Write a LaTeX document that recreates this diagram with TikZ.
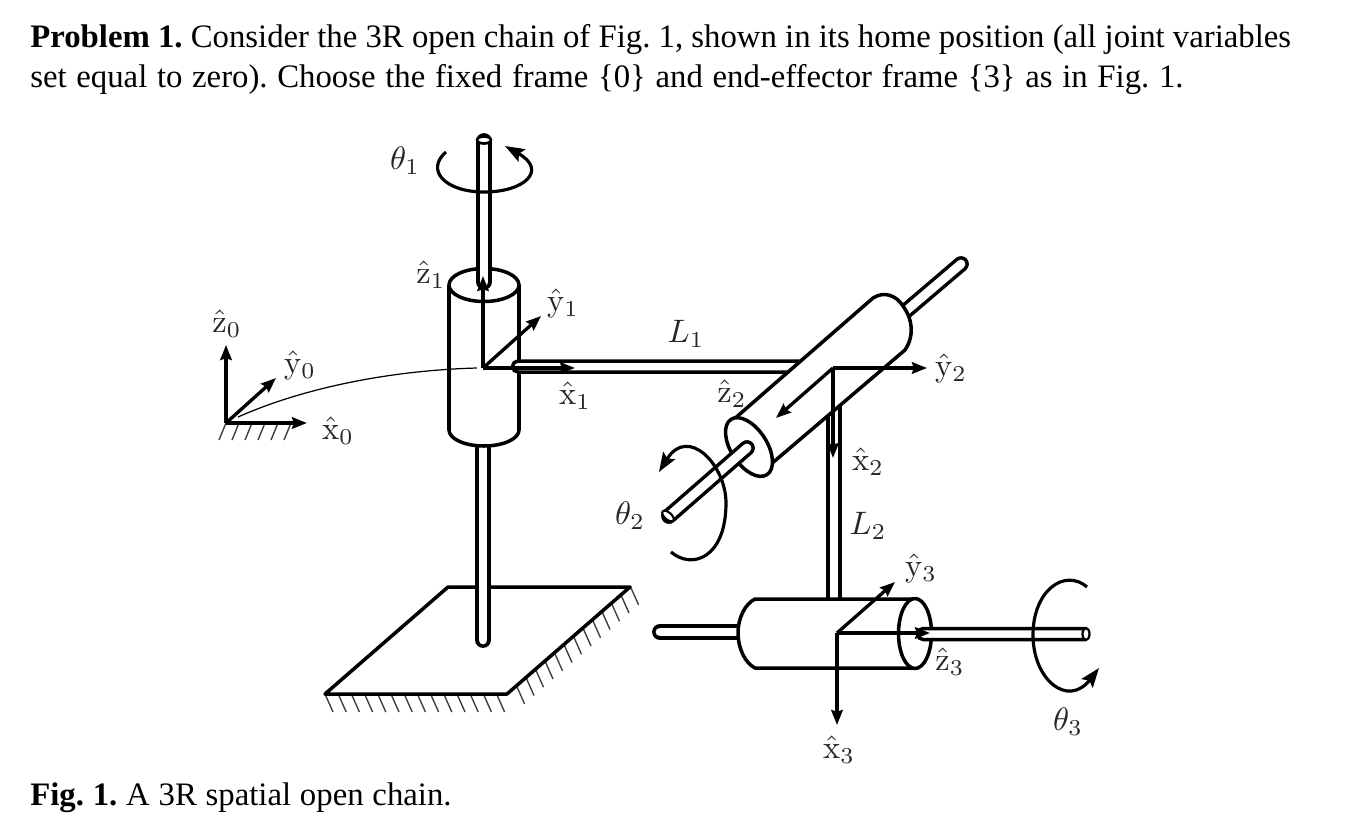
\documentclass[tikz,border=0pt]{standalone}
\usepackage{amsmath}
\usepackage[no-math]{fontspec}
\setmainfont{Liberation Serif}
\usepackage{tikz}
\usetikzlibrary{arrows.meta}

\tikzset{
    body/.style={line width=2pt,fill=white,line join=round},
    shaft/.style={line width=2pt,double=white,double distance=5pt,line cap=round},
    frameaxis/.style={line width=2.3pt,-{Stealth[length=8.5pt,width=6.5pt,inset=1pt]}},
    sideaxis/.style={line width=1.9pt,-{Stealth[length=8.5pt,width=6.5pt,inset=1pt]}},
    spin/.style={line width=1.8pt,-{Stealth[length=11pt,width=8pt,inset=2pt]}},
    hatch/.style={line width=0.8pt,black!75},
    lbl/.style={scale=1.85,inner sep=0pt,black!85},
    txt/.style={font=\fontsize{18.65}{22}\selectfont\frenchspacing,anchor=base west,inner sep=0pt}
}

\begin{document}
\begin{tikzpicture}[x=0.02cm,y=-0.02cm]
    \useasboundingbox (0,0) rectangle (1350,836);

    % Text
    \node[txt] (line1) at (30,47) {\textbf{Problem 1.} Consider the 3R open chain of Fig. 1, shown in its home position (all joint variables};
    \node[txt] (line2) at (30,87) {\spaceskip=5.5pt set equal to zero). Choose the fixed frame \{0\} and end-effector frame \{3\} as in Fig. 1.};
    \node[txt] (caption) at (30,805.5) {\spaceskip=5pt \textbf{Fig. 1.} A 3R spatial open chain.};

    % Frame origins
    \coordinate (O0) at (226,423);
    \coordinate (O1) at (483,368);
    \coordinate (O2) at (833,368);
    \coordinate (O3) at (837,633);

    % Fixed frame with its hatching
    \foreach \x in {226,239,252,265,278,291}
        \draw[hatch] (\x,423) -- ++(-7,17);

    % Base plate
    \foreach \i in {0,...,13}
        \draw[hatch] (325+13.2*\i,694) -- ++(8,18);
    \foreach \i in {1,...,13}
        \draw[hatch] (507+9.5*\i,694-8.25*\i) -- ++(8,18);
    \draw[line width=2pt,line join=round] (448,587) -- (630,587) -- (507,694) -- (325,694) -- cycle;

    % Joint 1
    \draw[shaft] (483,400) -- (483,640);
    \draw[body] (449,285) -- (449,430) arc[start angle=180,end angle=360,x radius=35,y radius=-16] -- (519,285) -- cycle;
    \draw[body] (484,285) ellipse[x radius=35,y radius=16.5];
    \draw[shaft] (484,282) -- (484,141);
    \draw[body,line width=1.5pt] (484,140) ellipse[x radius=7,y radius=3.5];

    % Link 1
    \draw[body] (810,361) -- (518,361) arc[start angle=270,end angle=90,radius=5.5] -- (800,372);

    % Link 2
    \draw[body] (828,400) -- (828,600);
    \draw[body] (840,400) -- (840,600);

    % Joint 2
    \draw[shaft] (900,316) -- (961,264);
    \draw[body] (733,420) -- (873,298) .. controls (884,291) and (896,295) .. (903,306)
        .. controls (912,318) and (915,335) .. (905,350) -- (770,465) -- cycle;
    \draw[body,rotate around={-57:(749,447)}] (749,447) ellipse[x radius=33,y radius=18];
    \draw[shaft] (747,448) -- (669,516);
    \draw[line width=1.2pt,fill=white,rotate around={-41:(668,516)}] (668,516) ellipse[x radius=7,y radius=3.5];

    % Joint 3
    \draw[shaft] (660,632) -- (740,632);
    \draw[body] (915,599) -- (755,599) .. controls (745,604) and (738,618) .. (738,633)
        .. controls (738,648) and (745,663) .. (755,668) -- (915,668) -- cycle;
    \draw[body] (915,633.5) ellipse[x radius=16.5,y radius=35];
    \draw[body] (1086,628.5) -- (923,628.5) arc[start angle=270,end angle=90,radius=5.5] -- (1086,639.5);
    \draw[body,line width=1.3pt] (1086,634) ellipse[x radius=3.5,y radius=6];

    % Frame axes
    \coordinate (Z0) at (226,345);
    \coordinate (X0) at (307,423);
    \coordinate (Y0) at (276,378);
    \draw[frameaxis] (O0) -- (Z0);
    \draw[frameaxis] (O0) -- (X0);
    \draw[sideaxis] (O0) -- (Y0);

    \coordinate (Z1) at (483,276);
    \coordinate (X1) at (575,368);
    \coordinate (Y1) at (541,316);
    \draw[frameaxis] (O1) -- (Z1);
    \draw[frameaxis] (O1) -- (X1);
    \draw[sideaxis] (O1) -- (Y1);

    \coordinate (Z2) at (776,418);
    \coordinate (X2) at (833,458);
    \coordinate (Y2) at (927,368);
    \draw[sideaxis] (O2) -- (Z2);
    \draw[frameaxis] (O2) -- (X2);
    \draw[sideaxis] (O2) -- (Y2);

    \coordinate (Z3) at (930,633);
    \coordinate (X3) at (837,725);
    \coordinate (Y3) at (895,582);
    \draw[frameaxis] (O3) -- (Z3);
    \draw[frameaxis] (O3) -- (X3);
    \draw[sideaxis] (O3) -- (Y3);

    % Thin curve between frames
    \coordinate (C0) at (238,417);
    \coordinate (C1) at (477,368);
    \draw[line width=0.7pt] (C0) .. controls (310,385) and (400,370) .. (C1);

    % Rotation arrows
    \draw[spin] (446,152) .. controls (425,170) and (445,192) .. (484,192)
        .. controls (525,192) and (548,170) .. (505,146);
    \draw[spin] (671,552) .. controls (692,570) and (726,558) .. (726,503)
        .. controls (726,465) and (688,425) .. (659,472);
    \draw[spin] (1087,587) .. controls (1065,568) and (1033,590) .. (1033,635)
        .. controls (1033,680) and (1068,708) .. (1099,668);

    % Labels
    \node[lbl] (zlabel0) at (227,324) {$\hat{\mathrm{z}}_0$};
    \node[lbl] (ylabel0) at (300,365) {$\hat{\mathrm{y}}_0$};
    \node[lbl] (xlabel0) at (338,431) {$\hat{\mathrm{x}}_0$};
    \node[lbl] (zlabel1) at (431,275) {$\hat{\mathrm{z}}_1$};
    \node[lbl] (ylabel1) at (563,303) {$\hat{\mathrm{y}}_1$};
    \node[lbl] (xlabel1) at (575,396) {$\hat{\mathrm{x}}_1$};
    \node[lbl] (zlabel2) at (732,394) {$\hat{\mathrm{z}}_2$};
    \node[lbl] (ylabel2) at (951,368) {$\hat{\mathrm{y}}_2$};
    \node[lbl] (xlabel2) at (868,462) {$\hat{\mathrm{x}}_2$};
    \node[lbl] (zlabel3) at (950,662) {$\hat{\mathrm{z}}_3$};
    \node[lbl] (ylabel3) at (921,568) {$\hat{\mathrm{y}}_3$};
    \node[lbl] (xlabel3) at (839,750) {$\hat{\mathrm{x}}_3$};
    \node[lbl] (link1) at (686,334) {$L_1$};
    \node[lbl] (link2) at (868,526) {$L_2$};
    \node[lbl] (theta1) at (405,161) {$\theta_1$};
    \node[lbl] (theta2) at (630,516) {$\theta_2$};
    \node[lbl] (theta3) at (1068,722) {$\theta_3$};
\end{tikzpicture}
\end{document}
